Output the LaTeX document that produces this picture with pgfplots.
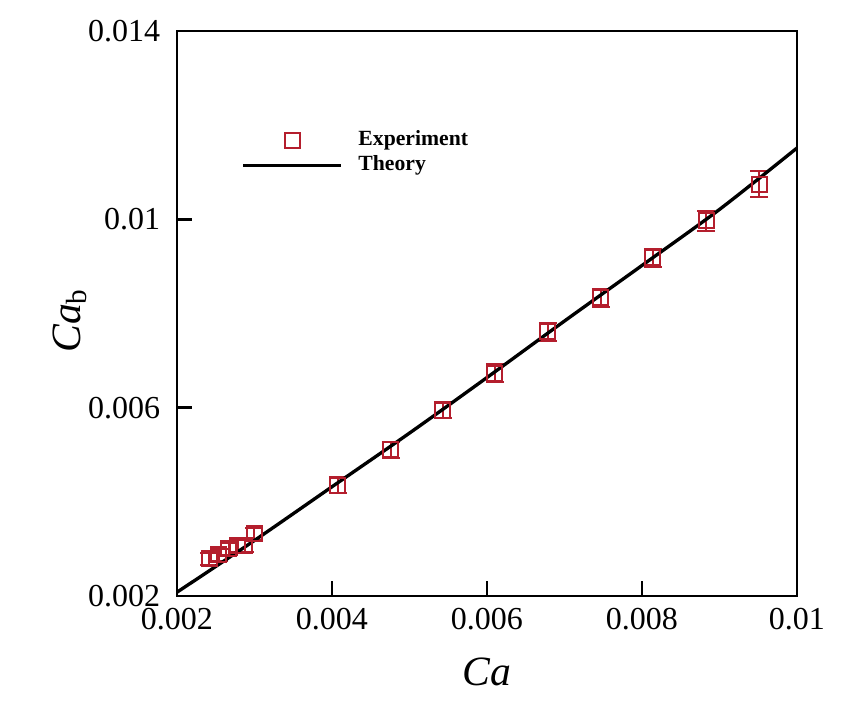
\documentclass[border=0pt]{standalone}
\usepackage{fontspec}
\setmainfont{Liberation Serif}
\usepackage{pgfplots}
\usepackage{pgfplotstable}
\pgfplotsset{compat=1.18}
\definecolor{expred}{RGB}{180,30,45}

% measured bubble capillary numbers with error
\pgfplotstableread{
x        y        e
0.002413 0.002786 0.00013
0.002542 0.002871 0.00013
0.002671 0.002998 0.00013
0.002787 0.003062 0.00013
0.002877 0.003062 0.00013
0.002994 0.003317 0.00013
0.004077 0.004357 0.00017
0.004761 0.005101 0.00017
0.005432 0.005950 0.00017
0.006103 0.006736 0.00019
0.006787 0.007607 0.00019
0.007471 0.008329 0.00019
0.008142 0.009179 0.00019
0.008826 0.009965 0.00021
0.009510 0.010750 0.00027
}\expdata

% theoretical curve
\pgfplotstableread{
x     y
0.002 0.00208
0.003 0.00318
0.004 0.00432
0.005 0.00546
0.006 0.00664
0.007 0.00784
0.008 0.00902
0.009 0.01021
0.010 0.011515
}\theorydata

\begin{document}
\begin{tikzpicture}
\useasboundingbox (-53.1pt,-32.4pt) rectangle (202.2pt,178.8pt);
\begin{axis}[
  scale only axis,
  width=186pt, height=169.5pt,
  xmin=0.002, xmax=0.01, ymin=0.002, ymax=0.014,
  xtick={0.002,0.004,0.006,0.008,0.01},
  ytick={0.002,0.006,0.01,0.014},
  minor tick num=0,
  scaled ticks=false,
  /pgf/number format/assume math mode=true,
  /pgf/number format/fixed,
  /pgf/number format/precision=3,
  xtick align=inside,
  ytick align=inside,
  tick pos=left,
  major tick length=4.5pt,
  axis line style={line width=0.8pt},
  tick style={black, line width=0.8pt},
  ytick style={draw=none},
  ticklabel style={font=\fontsize{9.6}{11}\selectfont},
  yticklabel style={xshift=-1.5pt},
  xlabel={\textit{Ca}},
  ylabel={\textit{Ca}\textsubscript{b}},
  label style={font=\fontsize{12.5}{14}\selectfont},
  xlabel style={at={(axis description cs:0.5,-0.135)}, anchor=center},
  ylabel style={at={(axis description cs:-0.173,0.488)}, anchor=center},
  legend cell align=left,
  legend style={draw=none, fill=none, inner sep=0pt,
    at={(axis description cs:0.1035,0.8376)}, anchor=north west,
    font=\bfseries\fontsize{6.5}{8}\selectfont,
    row sep=-2.4pt,
    /tikz/every odd column/.append style={column sep=2.6pt}},
]
\addplot[expred, only marks, mark=square, mark size=2.25pt,
  mark options={line width=0.6pt, fill=none},
  legend image code/.code={
    \draw[expred, line width=0.6pt] (12.45pt,-2.25pt) rectangle (16.95pt,2.25pt);},
  error bars/.cd, y dir=both, y explicit,
  error bar style={line width=0.6pt, expred},
  error mark options={rotate=90, mark size=2.7pt, line width=0.6pt, expred}]
  table[x=x, y=y, y error=e] {\expdata};
\addlegendentry{Experiment}
\addplot[black, line width=1pt, smooth,
  legend image code/.code={\draw[black, line width=1pt] (0pt,0pt) -- (29.4pt,0pt);}]
  table[x=x, y=y] {\theorydata};
\addlegendentry{Theory}
% inward y ticks on the left axis line
\draw[black, line width=0.8pt] (axis cs:0.002,0.006) -- ++(4.5pt,0pt);
\draw[black, line width=0.8pt] (axis cs:0.002,0.01) -- ++(4.5pt,0pt);
\end{axis}
\end{tikzpicture}
\end{document}
